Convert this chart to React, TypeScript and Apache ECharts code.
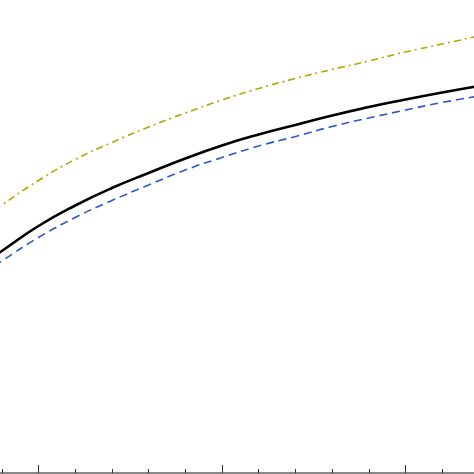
import React, { useEffect, useRef } from "react";
import * as echarts from "echarts";

const xValues = [3.8, 4, 5, 6, 7, 8, 9, 10, 11, 12, 13, 14, 15, 16, 17];
const blackSeries = [21.7, 22.2, 24.7, 26.75, 28.5, 30.0, 31.45, 32.75, 33.85, 34.8, 35.75, 36.6, 37.35, 38.05, 38.7];
const blueSeries = [20.7, 21.2, 23.55, 25.55, 27.25, 28.8, 30.3, 31.55, 32.7, 33.65, 34.65, 35.5, 36.3, 37.05, 37.7];
const oliveSeries = [26.3, 26.8, 29.25, 31.35, 33.05, 34.6, 36.0, 37.3, 38.45, 39.45, 40.35, 41.2, 42.1, 42.9, 43.7];

const pair = (ys: number[]) => xValues.map((x, i) => [x, ys[i]]);

export default function App() {
  const ref = useRef<HTMLDivElement>(null);
  useEffect(() => {
    if (!ref.current) return;
    const chart = echarts.init(ref.current, null, { renderer: "svg" });
    chart.setOption({
      animation: false,
      grid: { left: 0, right: 0, top: 0, bottom: 1, containLabel: false },
      xAxis: {
        type: "value",
        min: 0,
        max: 20,
        interval: 5,
        axisLine: { show: true, onZero: false, lineStyle: { color: "#8a8a8a", width: 2 } },
        axisTick: { show: true, inside: true, length: 8, lineStyle: { color: "#333", width: 1 } },
        minorTick: { show: true, splitNumber: 5, length: 4, lineStyle: { color: "#333", width: 1 } },
        axisLabel: { show: false },
        splitLine: { show: false },
        minorSplitLine: { show: false },
      },
      yAxis: {
        type: "value",
        min: 0,
        max: 50,
        show: false,
        splitLine: { show: false },
      },
      series: [
        {
          type: "line",
          data: pair(oliveSeries),
          smooth: true,
          showSymbol: false,
          lineStyle: { color: "#b8a400", width: 1.6, type: [7, 4, 2, 4] },
        },
        {
          type: "line",
          data: pair(blueSeries),
          smooth: true,
          showSymbol: false,
          lineStyle: { color: "#2a58d0", width: 1.6, type: [8, 5] },
        },
        {
          type: "line",
          data: pair(blackSeries),
          smooth: true,
          showSymbol: false,
          lineStyle: { color: "#000", width: 2.6 },
        },
      ],
    });
    return () => chart.dispose();
  }, []);
  return (
    <div
      ref={ref}
      style={{ position: "fixed", left: -145.5, top: -27, width: 734, height: 501 }}
    />
  );
}
